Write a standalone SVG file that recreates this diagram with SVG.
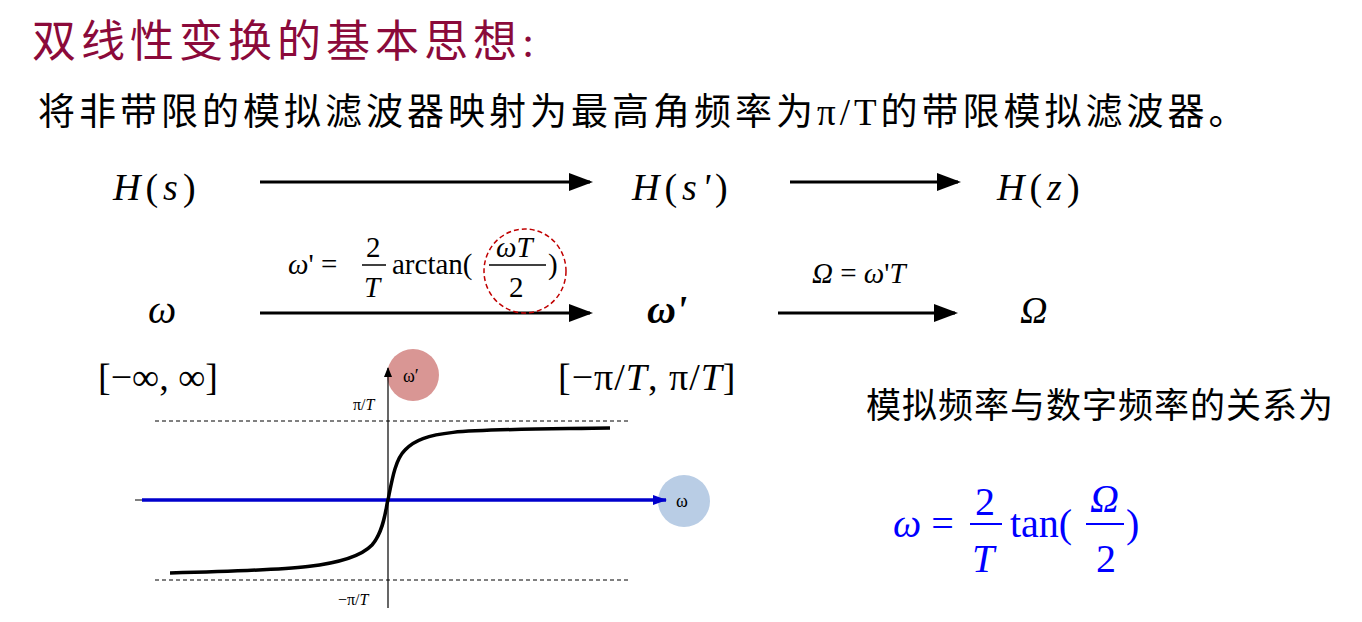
<svg xmlns="http://www.w3.org/2000/svg" width="1362" height="622" viewBox="0 0 1362 622">
<style>
.m{font-family:"Liberation Serif",serif;font-style:italic}
.r{font-family:"Liberation Serif",serif}
.cn{font-family:"Liberation Serif","Noto Sans CJK SC",serif}
.ar{stroke:#000;stroke-width:3;fill:none;marker-end:url(#ah)}
</style>
<defs>
<marker id="ah" markerWidth="8" markerHeight="6" refX="7" refY="3" orient="auto" markerUnits="strokeWidth"><path d="M0,0L8,3L0,6z" fill="#000"/></marker>
<marker id="ah2" markerWidth="10" markerHeight="8" refX="9" refY="4" orient="auto" markerUnits="userSpaceOnUse"><path d="M0,0L10,4L0,8z" fill="#000"/></marker>
<marker id="ah3" markerWidth="14" markerHeight="10" refX="13" refY="5" orient="auto" markerUnits="userSpaceOnUse"><path d="M0,0L14,5L0,10z" fill="#0000cc"/></marker>
</defs>
<rect width="1362" height="622" fill="#fff"/>
<text class="cn" x="32" y="57" font-size="44" letter-spacing="5" fill="#8b0a3a">双线性变换的基本思想:</text>
<text class="cn" x="38" y="125" font-size="37" letter-spacing="4">将非带限的模拟滤波器映射为最高角频率为π/T的带限模拟滤波器。</text>
<g id="Hs"><text class="m" x="113" y="200" font-size="38" letter-spacing="5">H<tspan class="r" font-style="normal">(</tspan>s<tspan class="r" font-style="normal">)</tspan></text></g>
<g id="Hs2"><text class="m" x="632" y="200" font-size="38" letter-spacing="5">H<tspan class="r" font-style="normal">(</tspan>s'<tspan class="r" font-style="normal">)</tspan></text></g>
<g id="Hz"><text class="m" x="997" y="200" font-size="38" letter-spacing="5">H<tspan class="r" font-style="normal">(</tspan>z<tspan class="r" font-style="normal">)</tspan></text></g>
<g id="w"><text class="m" x="148" y="323" font-size="40">ω</text></g>
<g id="w2"><text class="m" x="647" y="323" font-size="40" font-weight="bold">ω'</text></g>
<g id="O"><text class="m" x="1020" y="323" font-size="38">Ω</text></g>
<text class="r" x="98" y="390" font-size="38">[−∞, ∞]</text>
<text class="r" x="558" y="390" font-size="38" letter-spacing="1">[−π/<tspan font-style="italic">T</tspan>, π/<tspan font-style="italic">T</tspan>]</text>
<g id="connectors">
<line class="ar" x1="260" y1="182" x2="590" y2="182"/>
<line class="ar" x1="790" y1="182" x2="958" y2="182"/>
<line class="ar" x1="260" y1="313" x2="590" y2="313"/>
<line class="ar" x1="778" y1="313" x2="955" y2="313"/>
</g>
<g font-size="29">
<text class="m" x="288" y="274">ω<tspan class="r" font-style="normal">' =</tspan></text>
<text class="r" x="366" y="257">2</text>
<line x1="362" y1="265" x2="386" y2="265" stroke="#000" stroke-width="1.5"/>
<text class="m" x="364" y="297">T</text>
<text class="r" x="392" y="274">arctan(</text>
<text class="m" x="496" y="257">ωT</text>
<line x1="489" y1="265" x2="546" y2="265" stroke="#000" stroke-width="1.5"/>
<text class="r" x="509" y="297">2</text>
<text class="r" x="548" y="274">)</text>
</g>
<ellipse cx="525" cy="271" rx="41" ry="42" fill="none" stroke="#c00000" stroke-width="1.5" stroke-dasharray="5,3"/>
<text class="m" x="812" y="283" font-size="29">Ω<tspan class="r" font-style="normal"> = </tspan>ω<tspan class="r" font-style="normal">'</tspan>T</text>
<g id="graph">
<circle cx="413" cy="375" r="26" fill="#d99694"/>
<circle cx="684" cy="501" r="26" fill="#b9cde5"/>
<line x1="155" y1="421" x2="630" y2="421" stroke="#000" stroke-width="1" stroke-dasharray="4,3"/>
<line x1="155" y1="580" x2="630" y2="580" stroke="#000" stroke-width="1" stroke-dasharray="4,3"/>
<line x1="388" y1="608" x2="388" y2="368" stroke="#000" stroke-width="1.2" marker-end="url(#ah2)"/>
<line x1="135" y1="500" x2="142" y2="500" stroke="#000" stroke-width="1"/>
<line x1="142" y1="500" x2="666" y2="500" stroke="#0000cc" stroke-width="3.5" marker-end="url(#ah3)"/>
<path d="M170,573 C290,570 350,568 372,545 C385,530 386,505 388,500 C392,480 395,460 405,450 C425,428 470,430 610,428" fill="none" stroke="#000" stroke-width="3.5"/>
<text class="r" x="403" y="382" font-size="18">ω′</text>
<text class="r" x="676" y="507" font-size="18">ω</text>
<text class="r" x="353" y="410" font-size="16">π/<tspan font-style="italic">T</tspan></text>
<text class="r" x="338" y="605" font-size="16">−π/<tspan font-style="italic">T</tspan></text>
</g>
<text class="cn" x="866" y="418" font-size="35" letter-spacing="1">模拟频率与数字频率的关系为</text>
<g fill="#0000ff" font-size="40">
<text class="m" x="893" y="537">ω<tspan class="r" font-style="normal"> =</tspan></text>
<text class="r" x="975" y="515">2</text>
<line x1="970" y1="524" x2="1002" y2="524" stroke="#0000ff" stroke-width="2"/>
<text class="m" x="972" y="572">T</text>
<text class="r" x="1010" y="537">tan(</text>
<text class="m" x="1090" y="512">Ω</text>
<line x1="1086" y1="524" x2="1124" y2="524" stroke="#0000ff" stroke-width="2"/>
<text class="r" x="1096" y="572">2</text>
<text class="r" x="1126" y="537">)</text>
</g>
</svg>
